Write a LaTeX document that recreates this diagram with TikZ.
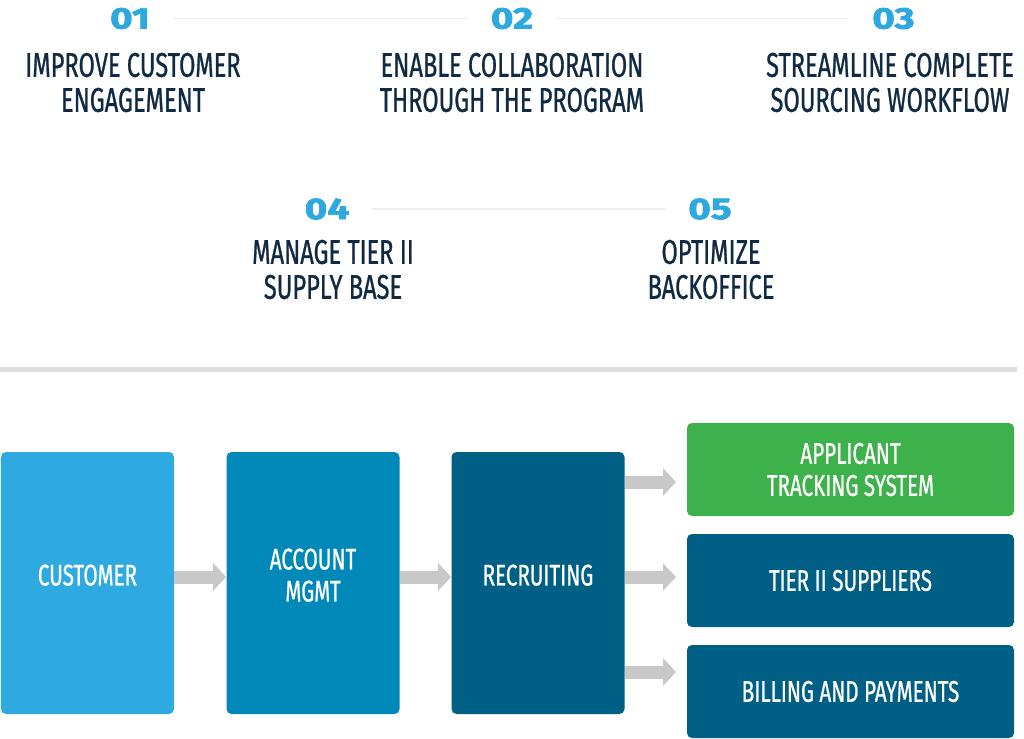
\documentclass[tikz,border=0pt]{standalone}
\usepackage{xcolor}
\usepackage{fontspec}
\usepackage{tikz}
\usetikzlibrary{arrows.meta,positioning}
\newfontfamily\capfont[FakeStretch=0.69,FakeBold=0.8]{Fira Sans}
\newfontfamily\numfont[FakeStretch=1.3,FakeBold=2.6]{Fira Sans}
\definecolor{inkdark}{RGB}{16,42,67}
\definecolor{numblue}{RGB}{46,169,224}
\definecolor{custblue}{RGB}{47,170,224}
\definecolor{acctblue}{RGB}{0,137,184}
\definecolor{deepblue}{RGB}{0,95,132}
\definecolor{atsgreen}{RGB}{61,178,74}
\definecolor{arrowgrey}{RGB}{200,200,200}
\definecolor{rulegrey}{RGB}{221,221,221}
\definecolor{thingrey}{RGB}{238,238,240}
\tikzset{
  flow/.style={-{Triangle[length=2.6mm,width=5.4mm]}, line width=2.6mm, draw=arrowgrey},
  timeline/.style={line width=0.35mm, draw=thingrey, shorten <=4.5mm, shorten >=4.5mm},
  box/.style={
    rounded corners=1mm,
    align=center,
    text=white,
    inner sep=0pt,
    font=\capfont\fontsize{17}{18.2}\selectfont
  },
  tallbox/.style={box, minimum width=3.46cm, minimum height=5.24cm, text depth=0.32cm},
  widebox/.style={box, minimum width=6.54cm, minimum height=1.86cm},
  stepnum/.style={font=\numfont\bfseries\fontsize{17}{17}\selectfont, text=numblue, inner sep=0pt},
  goal/.style={font=\capfont\fontsize{19.5}{19.9}\selectfont, text=inkdark, align=center, inner sep=0pt}
}
\begin{document}
\begin{tikzpicture}
  \useasboundingbox (0,0) rectangle (20.48,-14.78);

  % goals
  \node[stepnum] (n1) at (2.60,-0.37) {01};
  \node[stepnum] (n2) at (10.24,-0.37) {02};
  \node[stepnum] (n3) at (17.87,-0.37) {03};
  \node[stepnum] (n4) at (6.54,-4.18) {04};
  \node[stepnum] (n5) at (14.20,-4.18) {05};
  \draw[timeline] (n1.east) -- (n2.west);
  \draw[timeline] (n2.east) -- (n3.west);
  \draw[timeline] (n4.east) -- (n5.west);

  \node[goal] (g1) at (2.66,-1.65) {IMPROVE CUSTOMER\\ENGAGEMENT};
  \node[goal] (g2) at (10.24,-1.65) {ENABLE COLLABORATION\\THROUGH THE PROGRAM};
  \node[goal] (g3) at (17.80,-1.65) {STREAMLINE COMPLETE\\SOURCING WORKFLOW};
  \node[goal] (g4) at (6.66,-5.39) {MANAGE TIER II\\SUPPLY BASE};
  \node[goal] (g5) at (14.22,-5.39) {OPTIMIZE\\BACKOFFICE};

  \draw[line width=1mm, draw=rulegrey] (0,-7.38) -- (20.34,-7.38);

  % process
  \node[tallbox, fill=custblue] (customer) at (1.75,-11.66) {CUSTOMER};
  \node[tallbox, fill=acctblue] (account) at (6.26,-11.66) {ACCOUNT\\MGMT};
  \node[tallbox, fill=deepblue] (recruiting) at (10.76,-11.66) {RECRUITING};
  \node[widebox, fill=atsgreen] (ats) at (17.01,-9.39) {APPLICANT\\TRACKING SYSTEM};
  \node[widebox, fill=deepblue] (suppliers) at (17.01,-11.61) {TIER II SUPPLIERS};
  \node[widebox, fill=deepblue] (billing) at (17.01,-13.83) {BILLING AND PAYMENTS};

  \coordinate (tipats) at (13.52,-9.64);
  \coordinate (tipsup) at (13.52,-11.54);
  \coordinate (tipbill) at (13.52,-13.44);

  \draw[flow] ([yshift=1.2mm]customer.east) -- ([yshift=1.2mm]account.west);
  \draw[flow] ([yshift=1.2mm]account.east) -- ([yshift=1.2mm]recruiting.west);
  \draw[flow] (recruiting.east |- tipats) -- (tipats);
  \draw[flow] (recruiting.east |- tipsup) -- (tipsup);
  \draw[flow] (recruiting.east |- tipbill) -- (tipbill);
\end{tikzpicture}
\end{document}
